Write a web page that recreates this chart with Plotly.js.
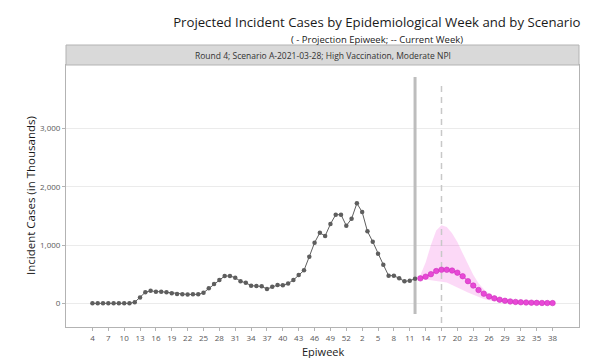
<!DOCTYPE html>
<html>
<head>
<meta charset="utf-8">
<script src="https://cdn.plot.ly/plotly-3.0.1.min.js"></script>
<style>html,body{margin:0;padding:0;background:#fff;}#chart{width:600px;height:358px;}</style>
</head>
<body>
<div id="chart"></div>
<script>
// Epiweek tick labels (2020 wk4 .. 2021 wk38, every 3 weeks)
const tickLabels = ["4","7","10","13","16","19","22","25","28","31","34","37","40","43","46","49","52","2","5","8","11","14","17","20","23","26","29","32","35","38"];
const tickIndex = [0,3,6,9,12,15,18,21,24,27,30,33,36,39,42,45,48,51,54,57,60,63,66,69,72,75,78,81,84,87];

// Observed incident cases (thousands), week index 0..61
const observedWeek = [0,1,2,3,4,5,6,7,8,9,10,11,12,13,14,15,16,17,18,19,20,21,22,23,24,25,26,27,28,29,30,31,32,33,34,35,36,37,38,39,40,41,42,43,44,45,46,47,48,49,50,51,52,53,54,55,56,57,58,59,60,61];
const observedCases = [0,0,0,0,0,0,0,1,20,100,190,215,200,200,190,172,160,155,152,154,154,182,257,331,400,468,468,440,377,353,302,297,291,245,285,314,308,340,400,485,566,800,1040,1211,1154,1360,1520,1520,1331,1451,1715,1566,1235,1057,851,662,474,474,428,377,388,420];

// Projection (thousands), week index 62..87
const projWeek = [62,63,64,65,66,67,68,69,70,71,72,73,74,75,76,77,78,79,80,81,82,83,84,85,86,87];
const projMedian = [428,457,500,554,576,576,562,525,465,380,305,228,165,118,85,62,44,32,24,18,14,11,8,6,5,4];
const projUpper = [480,700,1000,1250,1340,1310,1200,1050,860,660,490,345,240,160,105,70,46,36,27,20,16,12,9,7,6,5];
const projLower = [420,400,390,380,370,355,320,275,230,185,145,110,75,52,38,28,20,14,10,7,5,4,3,2,2,1];

// Reference lines
const projectionEpiweekIndex = 61;
const projectionLineY = [-183, 3881];
const currentWeekIndex = 66;
const currentLineY = [-338, 3778];

const stripText = "Round 4; Scenario A-2021-03-28; High Vaccination, Moderate NPI";
const titleText = "Projected Incident Cases by Epidemiological Week and by Scenario";
const subtitleText = "( - Projection Epiweek; -- Current Week)";
const xTitleText = "Epiweek";
const yTitleText = "Incident Cases (in Thousands)";

const pink = "rgb(232,72,214)";
const traces = [
  {x: projWeek.concat(projWeek.slice().reverse()), y: projUpper.concat(projLower.slice().reverse()),
   type: "scatter", mode: "lines", fill: "toself", fillcolor: "rgba(244,120,226,0.28)",
   line: {width: 0, color: "rgba(0,0,0,0)"}, hoverinfo: "skip", showlegend: false},
  {x: [projectionEpiweekIndex, projectionEpiweekIndex], y: projectionLineY, type: "scatter", mode: "lines",
   line: {color: "#bdbdbd", width: 3}, showlegend: false},
  {x: [currentWeekIndex, currentWeekIndex], y: currentLineY, type: "scatter", mode: "lines",
   line: {color: "#c8c8c8", width: 1.5, dash: "6px,5px"}, showlegend: false},
  {x: observedWeek, y: observedCases, type: "scatter", mode: "lines+markers",
   line: {color: "#5e5e5e", width: 1}, marker: {color: "#5e5e5e", size: 4.5}, showlegend: false},
  {x: projWeek, y: projMedian, type: "scatter", mode: "lines+markers",
   line: {color: pink, width: 1}, marker: {color: pink, size: 5.5, line: {color: "rgb(205,50,190)", width: 0.6}}, showlegend: false}
];

const plotTop = 65, plotBottom = 327, stripTop = 45, plotLeft = 66, plotW = 513;
const plotH = plotBottom - plotTop;
const stripH = (plotTop - stripTop) / plotH;

const layout = {
  width: 600, height: 358,
  margin: {l: 66, r: 21, t: 65, b: 31},
  paper_bgcolor: "#fff", plot_bgcolor: "#fff",
  font: {family: "Open Sans, sans-serif", color: "#4d4d4d"},
  title: {text: titleText, font: {size: 13.2, color: "#1a1a1a"}, xref: "container", x: 0.628, xanchor: "center", yref: "container", y: 1 - 22/358, yanchor: "middle"},
  xaxis: {range: [-5, 92], tickmode: "array", tickvals: tickIndex, ticktext: tickLabels,
          showgrid: false, zeroline: false, showline: true, mirror: true, linecolor: "#b3b3b3", linewidth: 1,
          ticks: "outside", ticklen: 3, tickcolor: "#b3b3b3", tickfont: {size: 8, color: "#595959"}},
  yaxis: {range: [-406, 4087], tickvals: [0, 1000, 2000, 3000], ticktext: ["0", "1,000", "2,000", "3,000"],
          showgrid: true, gridcolor: "#ebebeb", gridwidth: 1, zeroline: false, showline: true, mirror: true,
          linecolor: "#b3b3b3", linewidth: 1, ticks: "outside", ticklen: 3, tickcolor: "#b3b3b3",
          tickfont: {size: 8, color: "#595959"}},
  shapes: [
    {type: "rect", xref: "paper", yref: "paper", x0: 0, x1: 1, y0: 1, y1: 1 + stripH,
     fillcolor: "#d9d9d9", line: {color: "#b3b3b3", width: 1}, layer: "above"}
  ],
  annotations: [
    {text: stripText, xref: "paper", yref: "paper", x: 0.5, y: 1 + stripH/2, showarrow: false,
     xanchor: "center", yanchor: "middle", font: {size: 8.5, color: "#333333"}},
    {text: subtitleText, xref: "paper", yref: "paper", x: (377 - plotLeft)/plotW, y: 1 + (plotTop - 40)/plotH,
     showarrow: false, xanchor: "center", yanchor: "middle", font: {size: 9.5, color: "#1a1a1a"}},
    {text: xTitleText, xref: "paper", yref: "paper", x: (323 - plotLeft)/plotW, y: -(351.5 - plotBottom)/plotH,
     showarrow: false, xanchor: "center", yanchor: "middle", font: {size: 11, color: "#1a1a1a"}},
    {text: yTitleText, xref: "paper", yref: "paper", x: (30 - plotLeft)/plotW, y: 0.5, textangle: -90,
     showarrow: false, xanchor: "center", yanchor: "middle", font: {size: 11.5, color: "#1a1a1a"}}
  ],
  showlegend: false
};

Plotly.newPlot("chart", traces, layout, {displayModeBar: false, staticPlot: true});
</script>
</body>
</html>
